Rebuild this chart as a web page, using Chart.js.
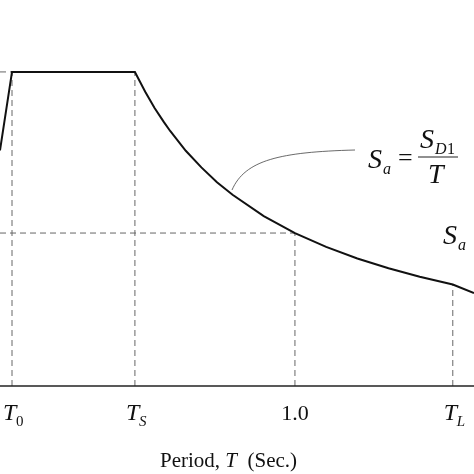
<!DOCTYPE html>
<html><head>
<script src="https://cdn.jsdelivr.net/npm/chart.js@4"></script>
<style>html,body{margin:0;padding:0;background:#fff}#c{display:block}</style>
</head><body>
<div style="width:474px;height:474px"><canvas id="c"></canvas></div>
<script>
// periods (sec) and spectral accel (normalised, SDS = 1)
const curveT  = [0.0545, 0.093, 0.487, 0.52, 0.55, 0.58, 0.6, 0.65, 0.7, 0.75, 0.8, 0.9, 1.0, 1.1, 1.2, 1.3, 1.4, 1.506, 1.574];
const curveSa = [0.75, 1.0, 1.0, 0.937, 0.885, 0.840, 0.812, 0.749, 0.696, 0.649, 0.609, 0.541, 0.487, 0.443, 0.406, 0.375, 0.348, 0.323, 0.296];
const T0 = 0.093, TS = 0.487, T1 = 1.0, TL = 1.506;
const SDS = 1.0, SD1 = 0.487, SaTL = 0.323;
const tickT = [T0, TS, T1, TL];
const xMin = 0.0545, xMax = 1.574, yMax = 1.229;

const dash = (pts) => ({
  data: pts, borderColor: '#666', borderWidth: 1, borderDash: [6, 4],
  pointRadius: 0, fill: false
});

const labels = ctx => {
  const c = ctx.ctx, xs = ctx.scales.x, ys = ctx.scales.y;
  const y0 = ys.getPixelForValue(0);
  c.save();
  c.strokeStyle = '#222'; c.lineWidth = 1.5;
  c.beginPath(); c.moveTo(0, y0); c.lineTo(474, y0); c.stroke();
  c.fillStyle = '#111'; c.textBaseline = 'alphabetic';
  const sub = ['0', 'S', '', 'L'];
  tickT.forEach((t, i) => {
    const px = xs.getPixelForValue(t);
    if (i === 2) {
      c.font = '22px "Liberation Serif"'; c.textAlign = 'center';
      c.fillText('1.0', px, 420);
    } else {
      c.font = 'italic 24px "Liberation Serif"'; c.textAlign = 'left';
      c.fillText('T', px - 9, 420);
      c.font = (i === 0 ? '' : 'italic ') + '15px "Liberation Serif"';
      c.fillText(sub[i], px + 4, 426);
    }
  });
  c.font = '21px "Liberation Serif"'; c.textAlign = 'left';
  c.fillText('Period, ', 160, 467);
  let w = c.measureText('Period, ').width;
  c.font = 'italic 21px "Liberation Serif"'; c.fillText('T', 160 + w, 467);
  w += c.measureText('T ').width;
  c.font = '21px "Liberation Serif"'; c.fillText(' (Sec.)', 160 + w, 467);
  // formula
  c.font = 'italic 28px "Liberation Serif"';
  c.fillText('S', 368, 168);
  c.font = 'italic 16px "Liberation Serif"'; c.fillText('a', 383, 174);
  c.font = '26px "Liberation Serif"'; c.fillText('=', 398, 166);
  c.font = 'italic 28px "Liberation Serif"'; c.fillText('S', 420, 148);
  c.font = 'italic 16px "Liberation Serif"'; c.fillText('D', 435, 154);
  c.font = '16px "Liberation Serif"'; c.fillText('1', 447, 154);
  c.lineWidth = 1.2; c.beginPath(); c.moveTo(418, 157); c.lineTo(458, 157); c.stroke();
  c.font = 'italic 28px "Liberation Serif"'; c.fillText('T', 428, 183);
  c.fillText('S', 443, 244);
  c.font = 'italic 16px "Liberation Serif"'; c.fillText('a', 458, 250);
  // leader
  c.strokeStyle = '#444'; c.lineWidth = 0.8;
  c.beginPath(); c.moveTo(232, 190);
  c.bezierCurveTo(245, 160, 280, 152, 355, 150); c.stroke();
  c.restore();
};

new Chart(document.getElementById('c'), {
  type: 'line',
  data: {
    datasets: [
      { data: curveT.map((t, i) => ({x: t, y: curveSa[i]})), borderColor: '#111',
        borderWidth: 2, pointRadius: 0, fill: false, tension: 0 },
      dash([{x: xMin, y: SDS}, {x: T0, y: SDS}]),
      dash([{x: T0, y: 0}, {x: T0, y: SDS}]),
      dash([{x: TS, y: 0}, {x: TS, y: SDS}]),
      dash([{x: xMin, y: SD1}, {x: T1, y: SD1}]),
      dash([{x: T1, y: 0}, {x: T1, y: SD1}]),
      dash([{x: TL, y: 0}, {x: TL, y: SaTL}])
    ]
  },
  options: {
    animation: false, responsive: true, maintainAspectRatio: false,
    layout: { padding: { bottom: 88, left: 0, right: 0, top: 0 } },
    plugins: { legend: { display: false }, tooltip: { enabled: false } },
    scales: {
      x: { type: 'linear', display: false, min: xMin, max: xMax },
      y: { display: false, min: 0, max: yMax }
    }
  },
  plugins: [{ id: 'labels', afterDraw: labels }]
});
</script>
</body></html>
